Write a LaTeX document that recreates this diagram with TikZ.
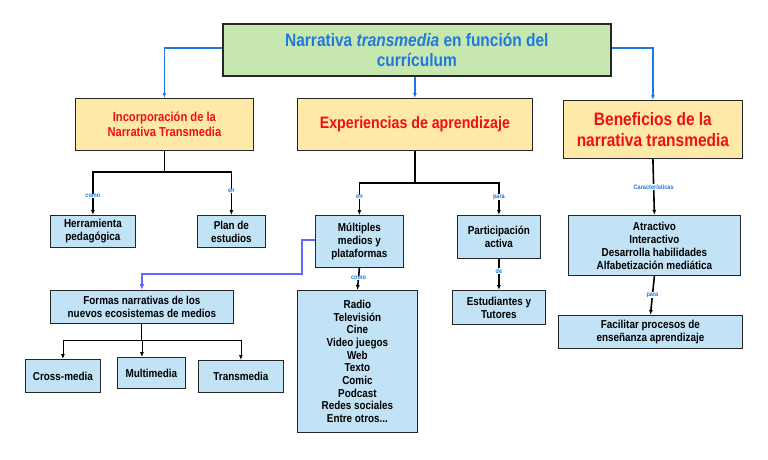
\documentclass[tikz,border=0pt]{standalone}
\usepackage{fontspec}
\setmainfont[FakeStretch=0.86]{Liberation Sans}
\usetikzlibrary{arrows.meta}
\definecolor{tgreen}{HTML}{C6E8B0}
\definecolor{tyellow}{HTML}{FFE9A8}
\definecolor{tblue}{HTML}{C2E2F5}
\definecolor{tline}{HTML}{1F78E0}
\definecolor{tviolet}{HTML}{6666FF}
\definecolor{tred}{HTML}{F01010}
\tikzset{
  bx/.style={draw=black!85, thick, align=center, inner sep=1pt, anchor=north west, font=\bfseries\fontsize{11.5}{13}\selectfont},
  yb/.style={bx, fill=tyellow, text=tred},
  bb/.style={bx, fill=tblue},
  bl/.style={draw=tline, line width=1.2pt, -{Latex[length=5pt,width=4pt]}},
  kl/.style={draw=black, line width=1.6pt, -{Latex[length=5pt,width=4pt]}},
  kn/.style={draw=black, line width=0.8pt, -{Latex[length=5pt,width=4pt]}},
  lab/.style={fill=white, inner sep=0.5pt, text=tline, font=\bfseries\fontsize{6.5}{7}\selectfont}
}
\begin{document}
\begin{tikzpicture}[x=1pt,y=-1pt]
\fill[white] (0,0) rectangle (768,459);
\node[bx, fill=tgreen, line width=1.6pt, text=tline, minimum width=388pt, minimum height=52pt, font=\bfseries\fontsize{18}{20}\selectfont] (t) at (222,23) {Narrativa \textit{transmedia} en función del\\currículum};
\node[yb, minimum width=178pt, minimum height=52pt, font=\bfseries\fontsize{13}{15}\selectfont] (inc) at (75,98) {Incorporación de la\\Narrativa Transmedia};
\node[yb, minimum width=235pt, minimum height=52pt, font=\bfseries\fontsize{16.5}{19}\selectfont] (exp) at (297,98) {Experiencias de aprendizaje};
\node[yb, minimum width=179pt, minimum height=58pt, font=\bfseries\fontsize{18}{21}\selectfont] (ben) at (563,100) {Beneficios de la\\narrativa transmedia};
\node[bb, minimum width=85pt, minimum height=32pt] (her) at (50,215) {Herramienta\\pedagógica};
\node[bb, minimum width=68pt, minimum height=32pt] (pla) at (197,215) {Plan de\\estudios};
\node[bb, minimum width=88pt, minimum height=52pt] (mul) at (315,215) {Múltiples\\medios y\\plataformas};
\node[bb, minimum width=83pt, minimum height=43pt] (par) at (457,215) {Participación\\activa};
\node[bb, minimum width=172pt, minimum height=60pt] (car) at (568,215) {Atractivo\\Interactivo\\Desarrolla habilidades\\Alfabetización mediática};
\node[bb, minimum width=183pt, minimum height=33pt] (for) at (50,290) {Formas narrativas de los\\nuevos ecosistemas de medios};
\node[bb, minimum width=120pt, minimum height=142pt, font=\bfseries\fontsize{11.5}{12.7}\selectfont] (lis) at (297,290) {Radio\\Televisión\\Cine\\Video juegos\\Web\\Texto\\Comic\\Podcast\\Redes sociales\\Entre otros...};
\node[bb, minimum width=93pt, minimum height=34pt] (est) at (452,290) {Estudiantes y\\Tutores};
\node[bb, minimum width=184pt, minimum height=33pt] (fac) at (558,315) {Facilitar procesos de\\enseñanza aprendizaje};
\node[bb, minimum width=75pt, minimum height=33pt] (cro) at (25,359) {Cross-media};
\node[bb, minimum width=68pt, minimum height=31pt] (mlt) at (117,357) {Multimedia};
\node[bb, minimum width=85pt, minimum height=32pt] (tra) at (198,360) {Transmedia};
% title connectors
\draw[bl] (t.west |- 0,48) -| (inc.north);
\draw[bl] (t.south -| exp.north) -- (exp.north);
\draw[bl] (t.east |- 0,48) -| (ben.north);
% incorporación
\coordinate (ci) at (inc.south |- 0,172);
\draw[black, line width=1.6pt] (inc.south) -- (ci);
\draw[kl] (ci) -| node[lab, pos=0.78]{como} (her.north);
\draw[kl] (ci) -| node[lab, pos=0.72]{en} (pla.north);
% experiencias
\coordinate (ce) at (exp.south |- 0,183);
\draw[black, line width=1.6pt] (exp.south) -- (ce);
\draw[kl] (ce) -| node[lab, pos=0.72]{en} (mul.north);
\draw[kl] (ce) -| node[lab, pos=0.72]{para} (par.north);
% beneficios
\draw[kl] (ben.south) -- node[lab, pos=0.5]{Características} (car.north);
\draw[kl] (car.south) -- node[lab, pos=0.5]{para} (fac.north);
% múltiples
\draw[draw=tviolet, line width=2pt, -{Latex[length=6pt,width=5pt]}] (mul.west |- 0,240) -- (302,240) -- (302,274) -| (for.north);
\draw[kl] (mul.south) -- node[lab, pos=0.45]{como} (lis.north);
\draw[kl] (par.south) -- node[lab, pos=0.4]{de} (est.north);
% formas
\coordinate (cf) at (for.south |- 0,340);
\draw[black, line width=1pt] (for.south) -- (cf);
\draw[kn] (cf) -- (cf |- mlt.north);
\draw[kn] (cf) -| (cro.north);
\draw[kn] (cf) -| (tra.north);
\end{tikzpicture}
\end{document}
